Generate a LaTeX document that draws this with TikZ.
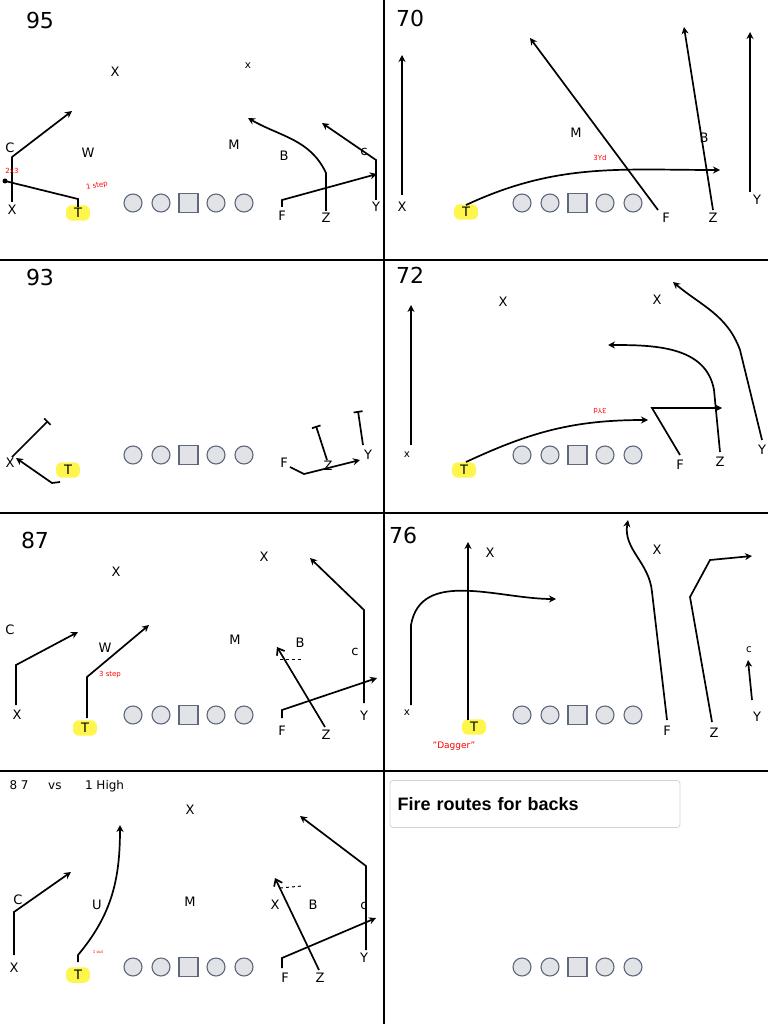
\documentclass[tikz,border=0pt]{standalone}
\usepackage{fontspec}
\setmainfont{DejaVu Sans}
\newfontfamily\boxfont{Liberation Sans}
\usetikzlibrary{arrows.meta}
\definecolor{olc}{RGB}{95,105,125}
\definecolor{olf}{RGB}{225,227,231}
\newcommand\olrow[2]{%
 \foreach \d in {0,28,83,111}{\draw[olc,fill=olf,line width=1.1pt] (#1+\d,#2) circle (9);}
 \draw[olc,fill=olf,line width=1.1pt] (#1+46,#2-9.5) rectangle (#1+65,#2+9.5);}
\begin{document}
\begin{tikzpicture}[x=1pt,y=-1pt,
 rt/.style={line width=1.7pt,-{Stealth[length=7pt,width=7pt]}},
 rl/.style={line width=1.7pt},
 tb/.style={line width=1.7pt,-{Bar[width=9pt]}},
 op/.style={line width=1.7pt,-{Straight Barb[length=6pt,width=9pt]}},
 pl/.style={font=\fontsize{13}{14}\selectfont},
 hl/.style={pl,fill=yellow!70,rounded corners=6pt,inner xsep=8pt,inner ysep=3pt},
 num/.style={font=\fontsize{22}{24}\selectfont},
 red/.style={text=red,font=\fontsize{7}{8}\selectfont},
 dsh/.style={line width=1pt,dashed}]
\fill[white] (0,0) rectangle (768,1024);
\useasboundingbox (0,0) rectangle (768,1024);
\draw[line width=2.5pt] (384,0)--(384,1024) (0,260)--(768,260) (0,513)--(768,513) (0,771)--(768,771);
% Panel 95
\node[num] (n95) at (40,20) {95};
\olrow{133}{203}
\node[pl] (d1) at (115,72) {X}; \node[pl,scale=.8] (d2) at (248,66) {x};
\node[pl] (c1) at (10,148) {C}; \node[pl] (w1) at (88,153) {W}; \node[pl] (m1) at (234,145) {M};
\node[pl] (b1) at (284,156) {B}; \node[pl] (cc1) at (364,152) {c};
\node[pl] (x1) at (12,210) {X}; \node[hl] (t1) at (78,213) {T};
\node[pl] (f1) at (282,216) {F}; \node[pl] (z1) at (326,218) {Z}; \node[pl] (y1) at (376,207) {Y};
\draw[rt] (12,202)--(12,157)--(72,111);
\draw[rl] (78,207)--(78,199)--(5,181); \fill (5,181) circle (2.5);
\node[red] (r1) at (12,171) {2x3}; \node[red,rotate=10] (r2) at (97,186) {1 step};
\draw[rt] (282,207)--(282,200)--(377,174);
\draw[rt] (326,211)--(326,173) to[out=115,in=-30] (248,118);
\draw[rt] (376,200)--(376,160)--(322,123);
% Panel 70
\node[num] (n70) at (410,18) {70};
\olrow{522}{203}
\node[pl] (x2) at (402,207) {X}; \node[hl] (t2) at (466,212) {T};
\node[pl] (m2) at (576,133) {M}; \node[pl] (b2) at (704,138) {B};
\node[pl] (f2) at (666,218) {F}; \node[pl] (z2) at (713,218) {Z}; \node[pl] (y2) at (757,200) {Y};
\draw[rt] (402,195)--(402,55);
\draw[rt] (466,205) to[out=25,in=180] (720,170);
\node[red] (r3) at (600,158) {3Yd};
\draw[rt] (658,210)--(530,38);
\draw[rt] (713,210)--(684,27);
\draw[rt] (750,192)--(750,32);
% Panel 93
\node[num] (n93) at (40,277) {93};
\olrow{133}{455}
\node[pl] (x3) at (10,463) {X}; \node[hl] (t3) at (68,470) {T};
\node[pl] (f3) at (284,463) {F}; \node[pl] (z3) at (328,466) {Z}; \node[pl] (y3) at (368,455) {Y};
\draw[tb] (12,457)--(48,421);
\draw[rt] (60,482)--(52,483)--(16,458);
\draw[rt] (290,467)--(304,474)--(360,460);
\draw[tb] (327,460)--(316,426);
\draw[tb] (363,445)--(358,411);
% Panel 72
\node[num] (n72) at (410,275) {72};
\olrow{522}{455}
\node[pl] (d3) at (503,302) {X}; \node[pl] (d4) at (657,300) {X};
\node[pl,scale=.8] (x4) at (407,455) {x}; \node[hl] (t4) at (464,470) {T};
\node[pl] (f4) at (680,465) {F}; \node[pl] (z4) at (720,462) {Z}; \node[pl] (y4) at (762,450) {Y};
\draw[rt] (411,445)--(411,305);
\draw[rt] (466,462) to[out=25,in=180] (648,420);
\node[red,rotate=180] (r4) at (600,411) {3Yd};
\draw[rt] (680,455)--(652,408)--(722,408);
\draw[rt] (720,452)--(714,390) to[out=100,in=0] (608,345);
\draw[rt] (762,440)--(740,350) to[out=110,in=-40] (673,282);
% Panel 87
\node[num] (n87) at (35,540) {87};
\olrow{133}{715}
\node[pl] (d5) at (116,572) {X}; \node[pl] (d6) at (264,557) {X};
\node[pl] (c5) at (10,630) {C}; \node[pl] (w5) at (105,648) {W}; \node[pl] (m5) at (235,640) {M};
\node[pl] (b5) at (300,643) {B}; \node[pl] (cc5) at (355,652) {c};
\node[pl] (x5) at (17,715) {X}; \node[hl] (t5) at (85,728) {T};
\node[pl] (f5) at (282,731) {F}; \node[pl] (z5) at (326,735) {Z}; \node[pl] (y5) at (364,716) {Y};
\draw[rt] (16,705)--(16,665)--(78,632);
\draw[rt] (87,718)--(87,677)--(149,625);
\node[red] (r5) at (110,675) {3 step};
\draw[op] (325,727)--(277,647); \draw[dsh] (280,659)--(303,659);
\draw[rt] (282,718)--(282,710)--(377,678);
\draw[rt] (364,703)--(364,610)--(310,558);
% Panel 76
\node[num] (n76) at (403,535) {76};
\olrow{522}{715}
\node[pl] (d7) at (490,553) {X}; \node[pl] (d8) at (657,550) {X};
\node[pl,scale=.8] (x6) at (407,713) {x}; \node[hl] (t6) at (474,727) {T};
\node[pl] (f6) at (667,731) {F}; \node[pl] (z6) at (714,733) {Z}; \node[pl] (y6) at (757,717) {Y};
\node[pl,scale=.8] (cc6) at (749,650) {c};
\draw[rt] (468,720)--(468,542);
\draw[rt] (411,705)--(411,625) to[out=80,in=180] (556,599);
\node[red,font=\fontsize{9}{10}\selectfont] (r6) at (454,746) {''Dagger''};
\draw[rt] (667,720)--(652,592) to[out=95,in=-100] (628,520);
\draw[rt] (712,722)--(690,597)--(710,560)--(752,556);
\draw[rt] (752,700)--(748,660);
% Panel 87 vs 1 High
\node[font=\fontsize{12}{13}\selectfont,anchor=west] (n87b) at (6,786) {8 7 \quad\ vs \quad\ \ 1 High};
\olrow{133}{967}
\node[pl] (d9) at (190,810) {X};
\node[pl] (c7) at (18,900) {C}; \node[pl] (u7) at (97,905) {U}; \node[pl] (m7) at (190,902) {M};
\node[pl] (xx7) at (275,905) {X}; \node[pl] (b7) at (313,905) {B}; \node[pl] (cc7) at (364,906) {c};
\node[pl] (x7) at (14,968) {X}; \node[hl] (t7) at (78,975) {T};
\node[pl] (f7) at (285,978) {F}; \node[pl] (z7) at (320,978) {Z}; \node[pl] (y7) at (364,958) {Y};
\draw[rt] (14,955)--(14,912)--(71,872);
\draw[rt] (78,962)--(78,955) to[out=50,in=-90] (120,825);
\node[red,font=\fontsize{4}{5}\selectfont] (r7) at (98,952) {1 out};
\draw[op] (319,970)--(275,878); \draw[dsh] (280,888)--(302,886);
\draw[rt] (282,968)--(282,958)--(376,918);
\draw[rt] (366,950)--(366,866)--(300,816);
% Bottom right
\node[draw=gray!35,rounded corners=3pt,line width=0.8pt,minimum width=290pt,minimum height=47pt,
  font=\boxfont\bfseries\fontsize{18}{20}\selectfont,align=left,text width=275pt] (box) at (535,804) {Fire routes for backs};
\olrow{522}{967}
\end{tikzpicture}
\end{document}
